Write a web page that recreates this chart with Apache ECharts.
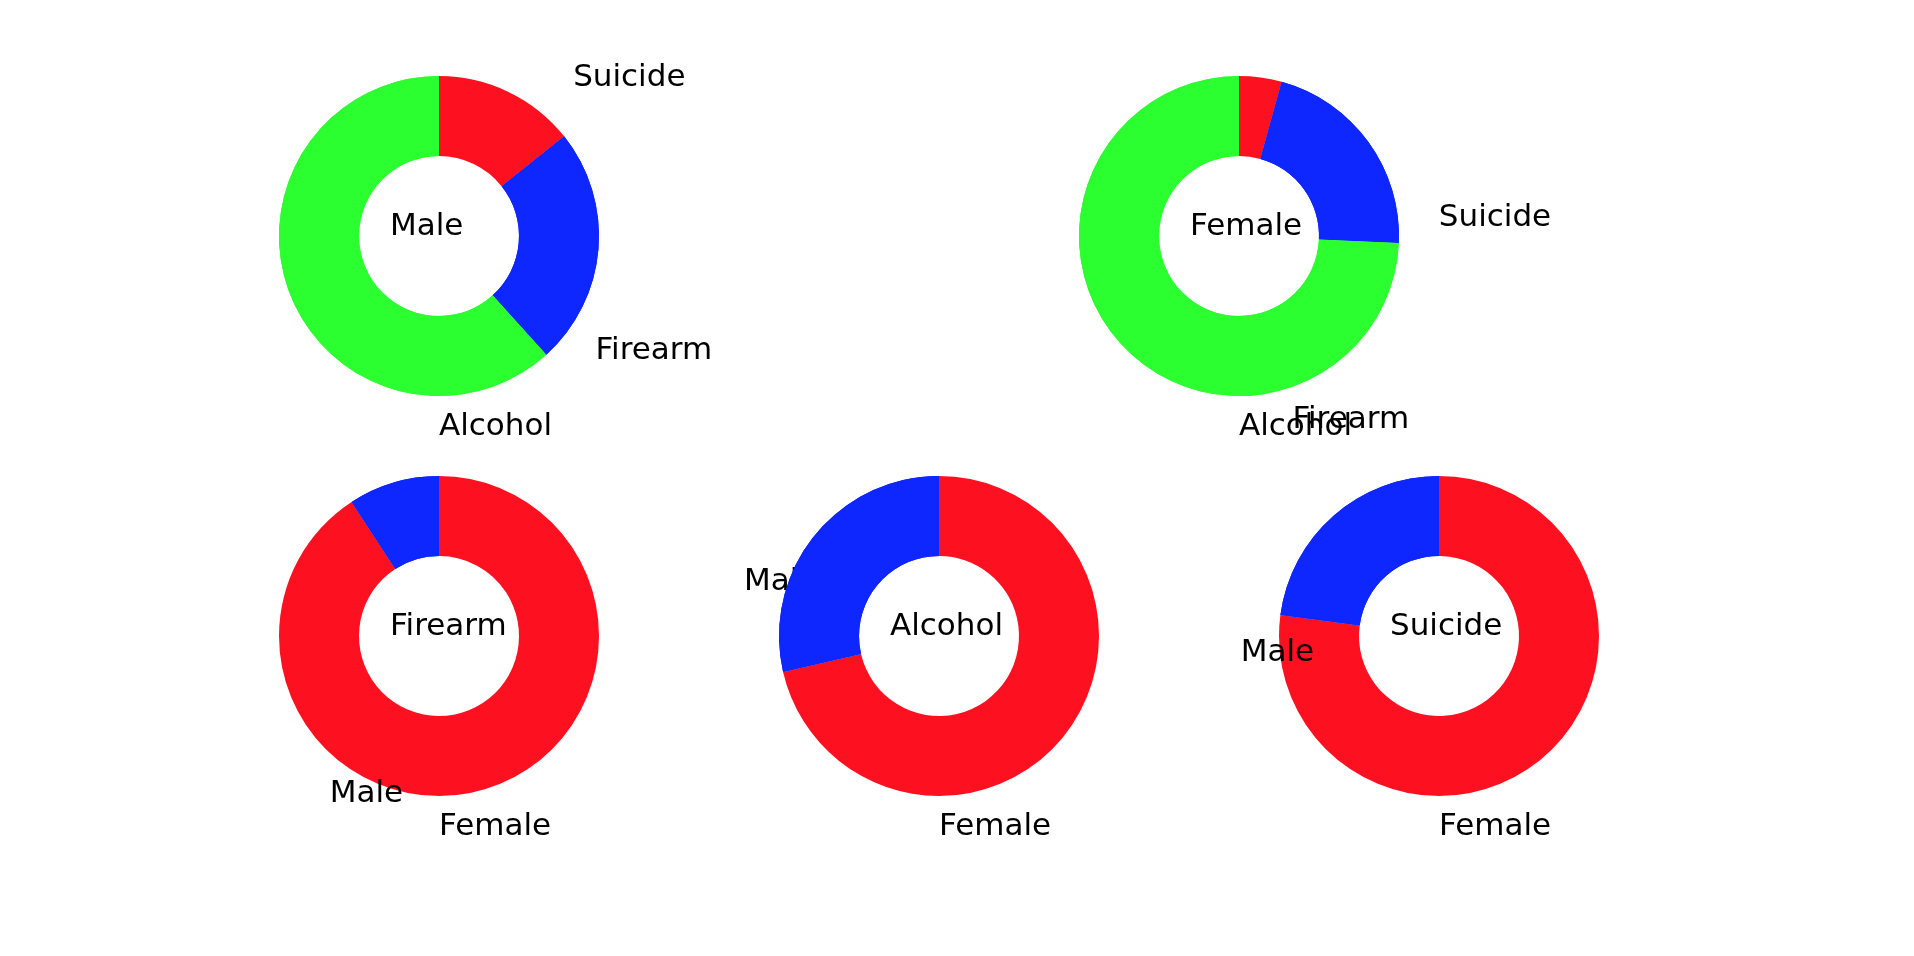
<!DOCTYPE html>
<html>
<head>
<meta charset="utf-8">
<script src="https://cdn.jsdelivr.net/npm/echarts/dist/echarts.min.js"></script>
<style>
html,body{margin:0;padding:0;background:#fff;}
#main{width:1914px;height:956px;}
</style>
</head>
<body>
<div id="main"></div>
<script>
// ---- data ----
const chartTitles = ['Male', 'Female', 'Firearm', 'Alcohol', 'Suicide'];
const causeCategories = ['Suicide', 'Firearm', 'Alcohol'];
const genderCategories = ['Male', 'Female'];
const maleValues = [14.3, 24.0, 61.7];
const femaleValues = [4.3, 21.4, 74.3];
const firearmValues = [90.8, 9.2];
const alcoholValues = [71.4, 28.6];
const suicideValues = [77.1, 22.9];

// ---- layout / style ----
const FONT = '"DejaVu Sans", sans-serif';
const FONT_SIZE = 31;
const BASELINE_SHIFT = 9.2;       // middle -> alphabetic baseline
const CENTERS = [[439, 236], [1239, 236], [439, 636], [939, 636], [1439, 636]];
const RADIUS = [80, 160];
const LABEL_RADIUS_RATIO = 1.25;
const TITLE_OFFSET_X = -49;
const COLORS = ['#fd1020', '#0e26ff', '#2bff2f'];

const chart = echarts.init(document.getElementById('main'), null, {renderer: 'canvas'});

const donuts = [
  {cats: causeCategories, vals: maleValues},
  {cats: causeCategories, vals: femaleValues},
  {cats: genderCategories, vals: firearmValues},
  {cats: genderCategories, vals: alcoholValues},
  {cats: genderCategories, vals: suicideValues}
];

function labelLayout(params) {
  const s = chart.getModel().getSeriesByIndex(params.seriesIndex);
  const data = s.getData();
  const n = data.count();
  const lay = data.getItemLayout(n - 1 - params.dataIndex);
  const a = lay.startAngle;
  const R = lay.r * LABEL_RADIUS_RATIO;
  return {
    x: lay.cx + R * Math.cos(a),
    y: lay.cy - R * Math.sin(a) - BASELINE_SHIFT,
    align: 'left',
    verticalAlign: 'middle'
  };
}

const series = [];
donuts.forEach(function (d, i) {
  const common = {
    type: 'pie',
    center: CENTERS[i],
    radius: RADIUS,
    startAngle: 90,
    clockwise: true,
    avoidLabelOverlap: false,
    emphasis: {disabled: true},
    labelLine: {show: false},
    itemStyle: {borderWidth: 0}
  };
  // base donut with labels
  series.push(Object.assign({}, common, {
    name: chartTitles[i],
    zlevel: 0,
    label: {
      show: true,
      position: 'outside',
      formatter: '{b}',
      fontFamily: FONT,
      fontSize: FONT_SIZE,
      color: '#000'
    },
    labelLayout: labelLayout,
    data: d.vals.map(function (v, k) {
      return {name: d.cats[k], value: v, itemStyle: {color: COLORS[k]}};
    })
  }));
  // overlay: later slices drawn above earlier labels
  series.push(Object.assign({}, common, {
    name: chartTitles[i] + ' overlay',
    zlevel: 1,
    silent: true,
    label: {show: false},
    data: d.vals.map(function (v, k) {
      return {name: d.cats[k], value: v, itemStyle: {color: k === 0 ? 'rgba(0,0,0,0)' : COLORS[k]}};
    })
  }));
});

chart.setOption({
  backgroundColor: '#ffffff',
  animation: false,
  tooltip: {show: false},
  title: chartTitles.map(function (t, i) {
    return {
      text: t,
      left: CENTERS[i][0] + TITLE_OFFSET_X,
      top: CENTERS[i][1] - FONT_SIZE / 2 - BASELINE_SHIFT,
      padding: 0,
      textStyle: {fontFamily: FONT, fontSize: FONT_SIZE, fontWeight: 'normal', color: '#000'}
    };
  }),
  series: series
});
</script>
</body>
</html>
